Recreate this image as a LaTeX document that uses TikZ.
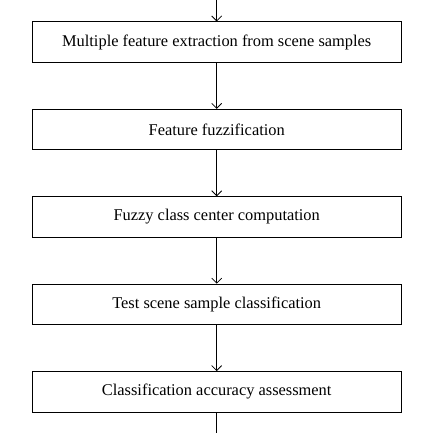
\documentclass[tikz,border=0pt]{standalone}
\usepackage{tikz}
\usepackage{fontspec}
\setmainfont{Liberation Serif}
\usetikzlibrary{arrows.meta,positioning}

\begin{document}
\begin{tikzpicture}[x=1pt,y=1pt,>={Straight Barb[length=5pt,width=10pt,line width=0.8pt]},line width=0.9pt,
    stepbox/.style={draw,rectangle,minimum width=369.5pt,minimum height=40.5pt,inner sep=0pt,
      font=\fontsize{16.4}{18}\selectfont},
    node distance=46pt]
      \useasboundingbox (0,0) rectangle (433,-433);
      \coordinate (in) at (216.7,0);
      \node[stepbox] (extract) at (216.7,-42.2) {Multiple feature extraction from scene samples};
      \node[stepbox,below=of extract] (fuzzify) {Feature fuzzification};
      \node[stepbox,below=of fuzzify] (center) {Fuzzy class center computation};
      \node[stepbox,below=of center] (classify) {Test scene sample classification};
      \node[stepbox,below=of classify] (assess) {Classification accuracy assessment};
      \coordinate (out) at (216.7,-433);
      \draw[->] (in) -- (extract);
      \draw[->] (extract) -- (fuzzify);
      \draw[->] (fuzzify) -- (center);
      \draw[->] (center) -- (classify);
      \draw[->] (classify) -- (assess);
      \draw (assess) -- (out);
    \end{tikzpicture}
\end{document}
